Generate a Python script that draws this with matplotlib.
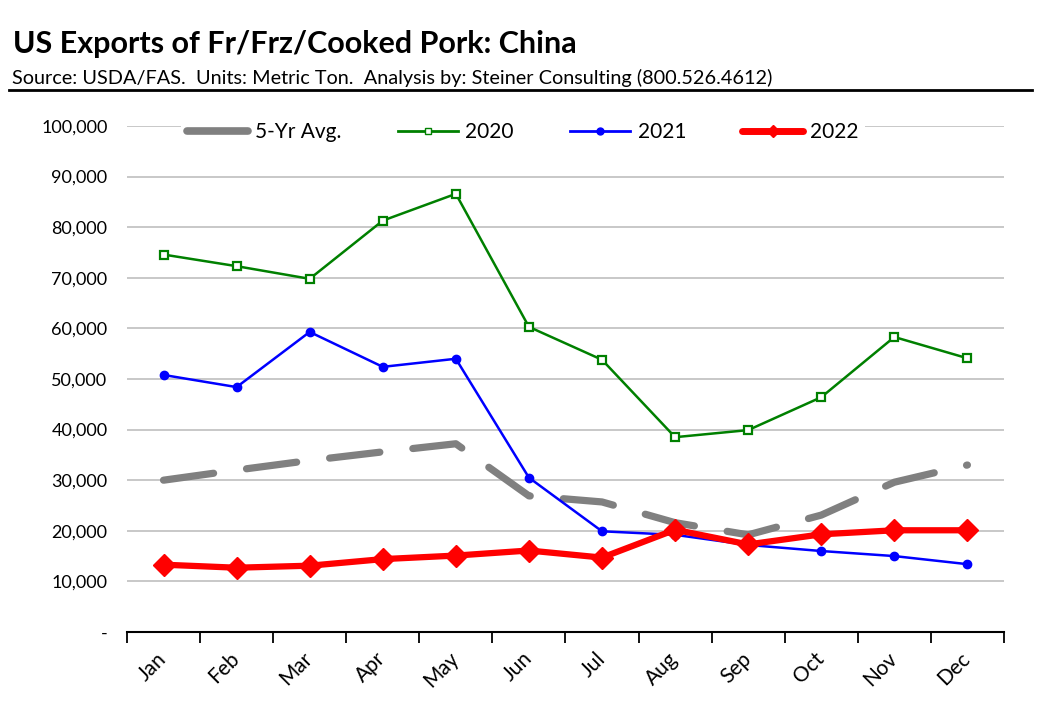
import numpy as np
import matplotlib.pyplot as plt
import matplotlib.ticker as mticker
from matplotlib.lines import Line2D

months = ["Jan", "Feb", "Mar", "Apr", "May", "Jun",
          "Jul", "Aug", "Sep", "Oct", "Nov", "Dec"]
avg5 = [30000, 32000, 33900, 35600, 37200, 26900, 25700, 21600, 19200, 23100, 29600, 33000]
y2020 = [74600, 72300, 69800, 81300, 86600, 60300, 53800, 38500, 39900, 46400, 58300, 54100]
y2021 = [50800, 48400, 59300, 52400, 54000, 30500, 19900, 19200, 17200, 16000, 15000, 13400]
y2022 = [13300, 12700, 13100, 14400, 15100, 16100, 14700, 20200, 17300, 19300, 20100, 20100]

font = ["Lato", "DejaVu Sans"]

fig = plt.figure(figsize=(10.46, 7.12), dpi=100)
ax = fig.add_axes([0.1214, 0.1124, 0.8384, 0.7106])

x = np.arange(len(months))
ax.plot(x, avg5, color="#808080", lw=5.2, dashes=(7, 4.6), dash_capstyle="round", zorder=2)
ax.plot(x, y2020, color="#008000", lw=1.8, marker="s", ms=6, mfc="white", mec="#008000", mew=1.6, zorder=3)
ax.plot(x, y2021, color="#0000ff", lw=1.8, marker="o", ms=6, zorder=4)
ax.plot(x, y2022, color="#ff0000", lw=4.5, marker="D", ms=11, zorder=5)

ax.set_xlim(-0.5, 11.5)
ax.set_ylim(0, 100000)
ax.set_yticks(np.arange(0, 100001, 10000))
ax.yaxis.set_major_formatter(mticker.FuncFormatter(lambda v, p: "-" if v == 0 else f"{int(v):,}"))
ax.grid(axis="y", color="#bfbfbf", lw=1.2, zorder=0)
ax.set_axisbelow(True)

ax.set_xticks(x)
ax.set_xticklabels(months, rotation=45, fontsize=15, family=font,
                   ha="right", va="center", rotation_mode="anchor")
ax.set_xticks(np.arange(-0.5, 12, 1), minor=True)
ax.tick_params(axis="x", which="major", length=0, pad=17)
ax.tick_params(axis="x", which="minor", length=8, width=1.3, direction="out")
ax.tick_params(axis="y", length=0, pad=14, labelsize=13)
for lab in ax.get_yticklabels():
    lab.set_family(font)

for s in ["top", "right", "left"]:
    ax.spines[s].set_visible(False)
ax.spines["bottom"].set_linewidth(1.5)

handles = [
    Line2D([], [], color="#808080", lw=5.5, solid_capstyle="round"),
    Line2D([], [], color="#008000", lw=2, marker="s", ms=5, mfc="white", mec="#008000"),
    Line2D([], [], color="#0000ff", lw=2, marker="o", ms=5),
    Line2D([], [], color="#ff0000", lw=5, marker="D", ms=6, solid_capstyle="round"),
]
leg = ax.legend(handles, ["5-Yr Avg.", "2020", "2021", "2022"], ncol=4,
                loc="center", bbox_to_anchor=(0.4515, 0.988), frameon=True,
                facecolor="white", edgecolor="none", framealpha=1,
                handlelength=2.9, columnspacing=2.7, handletextpad=0.35,
                prop={"family": font, "size": 15}, borderpad=0.3)
leg.set_zorder(10)

fig.text(0.012, 0.926, "US Exports of Fr/Frz/Cooked Pork: China", fontsize=22,
         fontweight="bold", family=font)
fig.text(0.011, 0.882, "Source: USDA/FAS.  Units: Metric Ton.  Analysis by: Steiner Consulting (800.526.4612)",
         fontsize=14.3, family=font)
fig.add_artist(Line2D([0.009, 0.987], [0.873, 0.873], color="black", lw=2))

fig.savefig("out.png", dpi=100)
